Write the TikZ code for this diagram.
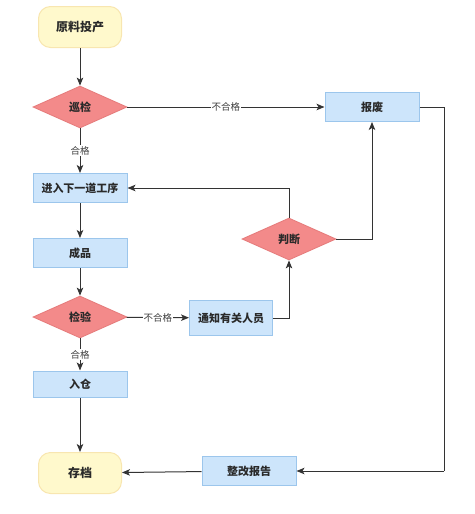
\documentclass[tikz,border=0pt]{standalone}
\usepackage{fontspec}
\setmainfont{Noto Sans CJK SC}
\usetikzlibrary{shapes.geometric,arrows.meta}
\definecolor{boxfill}{HTML}{CDE5FB}
\definecolor{boxline}{HTML}{9CC6EC}
\definecolor{dfill}{HTML}{F38A8A}
\definecolor{dline}{HTML}{E57A7A}
\definecolor{yfill}{HTML}{FFF9CC}
\definecolor{yline}{HTML}{F8E6B0}
\definecolor{lnk}{HTML}{333333}
\definecolor{txt}{HTML}{2A2A2A}
\begin{document}
\begin{tikzpicture}[x=1pt,y=-1pt,
  every node/.style={font=\fontsize{11}{13}\selectfont\bfseries,text=txt},
  pbox/.style={draw=boxline,fill=boxfill,line width=1pt,minimum width=94pt,minimum height=29pt,inner sep=0pt},
  term/.style={draw=yline,fill=yfill,line width=1pt,rounded corners=12pt,minimum width=83pt,minimum height=41pt,inner sep=0pt,font=\fontsize{12}{14}\selectfont\bfseries},
  dec/.style={diamond,draw=dline,fill=dfill,line width=0.8pt,aspect=2.24,minimum width=94pt,minimum height=42pt,inner sep=0pt},
  lab/.style={fill=white,font=\fontsize{9.5}{11}\selectfont,text=black!75,inner sep=1pt},
  link/.style={draw=lnk,line width=1pt,-{Stealth[length=8pt,width=6.5pt,inset=2pt]}},
  plain/.style={draw=lnk,line width=1pt}]
\useasboundingbox (0,0) rectangle (474,514);
\node[term] (start) at (80,27) {原料投产};
\node[dec] (xj) at (80,107) {巡检};
\node[pbox] (bf) at (372,107) {报废};
\node[pbox] (next) at (80,188) {进入下一道工序};
\node[dec] (pd) at (289,239) {判断};
\node[pbox] (cp) at (80,253) {成品};
\node[dec] (jy) at (80,317) {检验};
\node[pbox,minimum width=83pt,minimum height=35pt] (tz) at (231,318) {通知有关人员};
\node[pbox,minimum height=26pt] (rc) at (80,384) {入仓};
\node[term] (cd) at (80,473) {存档};
\node[pbox] (zg) at (249,471) {整改报告};
\coordinate (c1) at (444,107);
\coordinate (c2) at (444,471);

\draw[link] (start) -- (xj);
\draw[link] (xj) -- node[lab]{不合格} (bf);
\draw[link] (xj) -- node[lab,pos=0.5]{合格} (next);
\draw[link] (next) -- (cp);
\draw[link] (cp) -- (jy);
\draw[link] (jy) -- node[lab,pos=0.5]{不合格} (tz);
\draw[link] (jy) -- node[lab,pos=0.5]{合格} (rc);
\draw[link] (rc) -- (cd);
\draw[link] (tz.east) -| (pd.south);
\draw[link] (pd.north) |- (next.east);
\draw[link] (pd.east) -| (bf.south);
\draw[plain] (bf.east) -- (c1) -- (c2);
\draw[link] (c2) -- (zg.east);
\draw[link] (zg) -- (cd);
\end{tikzpicture}
\end{document}
